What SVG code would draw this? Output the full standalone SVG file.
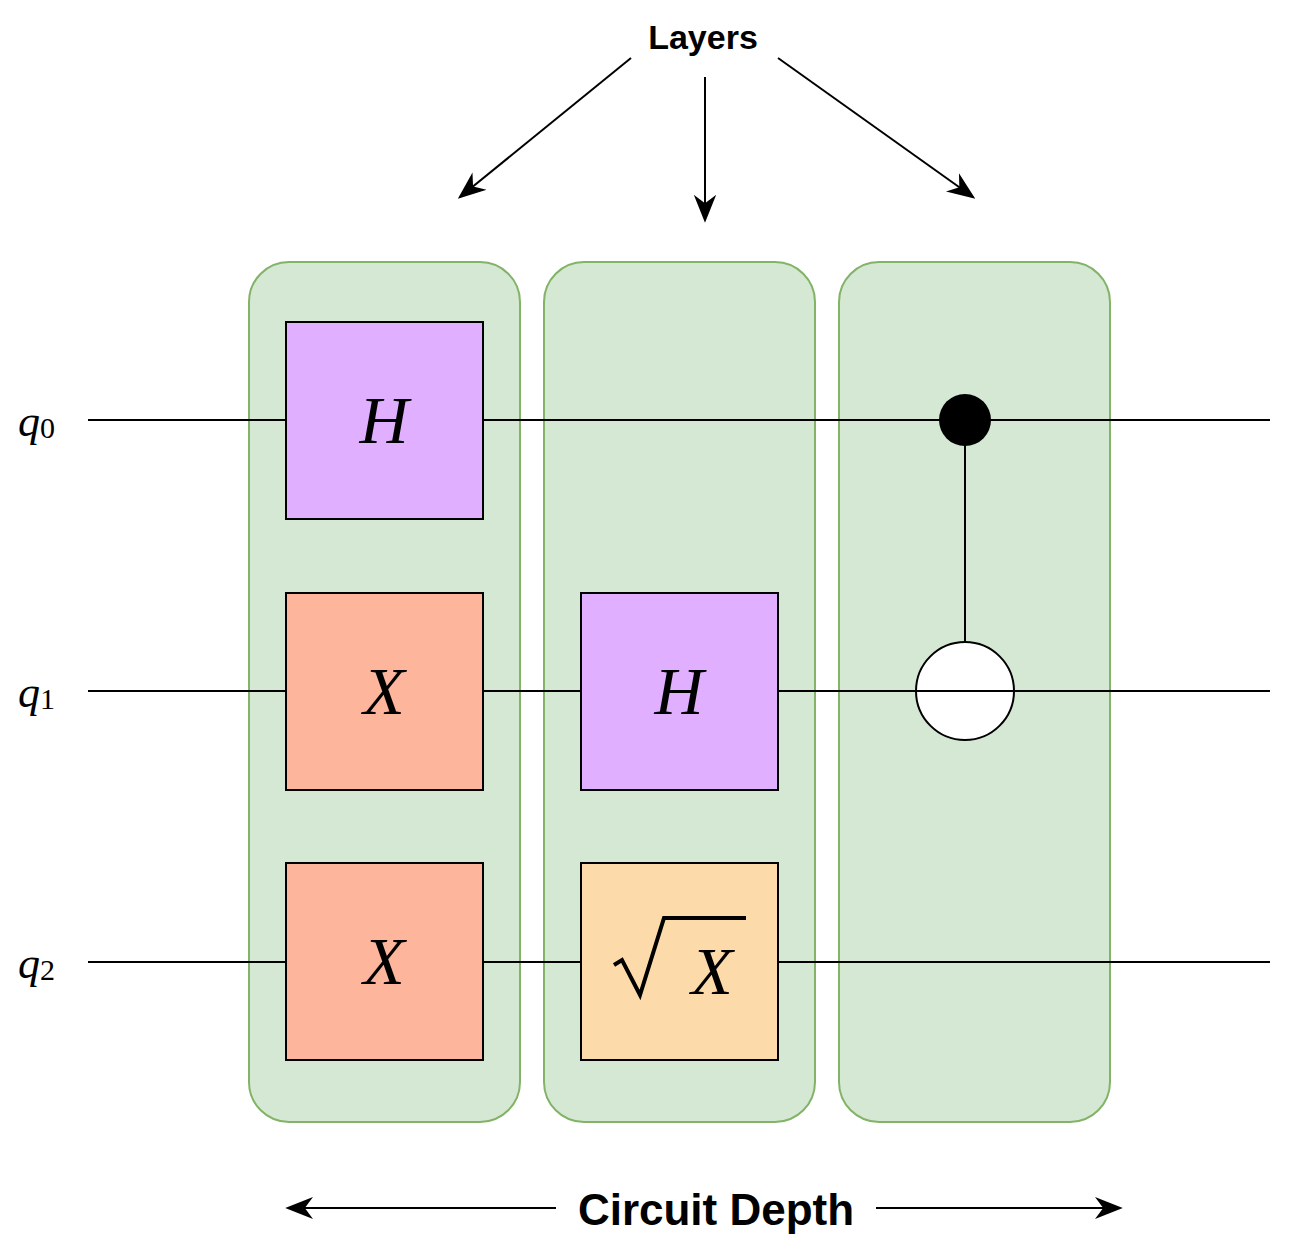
<svg xmlns="http://www.w3.org/2000/svg" width="1290" height="1256" viewBox="0 0 1290 1256">
<style>
.layer{fill:#d5e8d4;stroke:#82b366;stroke-width:2}
.gate{stroke:#000;stroke-width:2}
.wire{stroke:#000;stroke-width:2;fill:none}
.math{font-family:"Liberation Serif",serif;font-style:italic;fill:#000}
.lbl{font-family:"Liberation Sans",Arial,sans-serif;font-weight:bold;fill:#000}
</style>
<defs>
<marker id="ah" viewBox="0 0 10 10" refX="9" refY="5" markerWidth="7" markerHeight="7" orient="auto-start-reverse" markerUnits="userSpaceOnUse" >
<path d="M0,0 L10,5 L0,10 L3,5 Z" fill="#000"/>
</marker>
<marker id="ah2" viewBox="0 0 10 10" refX="9" refY="5" markerWidth="28" markerHeight="28" orient="auto-start-reverse" markerUnits="userSpaceOnUse">
<path d="M0,1 L10,5 L0,9 L3,5 Z" fill="#000"/>
</marker>
</defs>
<g id="layers">
<rect id="layer1" class="layer" x="249" y="262" width="271" height="860" rx="40"/>
<rect id="layer2" class="layer" x="544" y="262" width="271" height="860" rx="40"/>
<rect id="layer3" class="layer" x="839" y="262" width="271" height="860" rx="40"/>
</g>
<g id="connectors">
<line class="wire" x1="88" y1="420" x2="286" y2="420"/>
<line class="wire" x1="483" y1="420" x2="1270" y2="420"/>
<line class="wire" x1="88" y1="691" x2="286" y2="691"/>
<line class="wire" x1="483" y1="691" x2="581" y2="691" stroke="#555"/>
<line class="wire" x1="778" y1="691" x2="1270" y2="691"/>
<line class="wire" x1="88" y1="962" x2="286" y2="962"/>
<line class="wire" x1="483" y1="962" x2="581" y2="962" stroke="#555"/>
<line class="wire" x1="778" y1="962" x2="1270" y2="962"/>
<line class="wire" x1="631" y1="58" x2="460" y2="197" marker-end="url(#ah2)"/>
<line class="wire" x1="705" y1="77" x2="705" y2="220" marker-end="url(#ah2)"/>
<line class="wire" x1="778" y1="58" x2="973" y2="197" marker-end="url(#ah2)"/>
<line class="wire" x1="288" y1="1208" x2="556" y2="1208" stroke-width="3" marker-start="url(#ah2)"/>
<line class="wire" x1="876" y1="1208" x2="1120" y2="1208" stroke-width="3" marker-end="url(#ah2)"/>
</g>
<g id="g_h0"><rect class="gate" x="286" y="322" width="197" height="197" fill="#e1afff"/><text class="math" x="384" y="443" font-size="68" text-anchor="middle">H</text></g>
<g id="g_x1"><rect class="gate" x="286" y="593" width="197" height="197" fill="#fdb59b"/><text class="math" x="384" y="714" font-size="68" text-anchor="middle">X</text></g>
<g id="g_x2"><rect class="gate" x="286" y="863" width="197" height="197" fill="#fdb59b"/><text class="math" x="384" y="984" font-size="68" text-anchor="middle">X</text></g>
<g id="g_h1"><rect class="gate" x="581" y="593" width="197" height="197" fill="#e1afff"/><text class="math" x="679" y="714" font-size="68" text-anchor="middle">H</text></g>
<g id="g_sx"><rect class="gate" x="581" y="863" width="197" height="197" fill="#fddaa9"/>
<path d="M614,965 L622,960 L640,995 L664,918 L746,918" fill="none" stroke="#000" stroke-width="4"/>
<text class="math" x="712" y="994" font-size="68" text-anchor="middle">X</text></g>
<g id="cnot">
<line class="wire" x1="965" y1="420" x2="965" y2="740"/>
<circle cx="965" cy="420" r="26" fill="#000"/>
<circle cx="965" cy="691" r="49" fill="#fff" stroke="#000" stroke-width="2"/>
<line class="wire" x1="916" y1="691" x2="1014" y2="691"/>
</g>
<g id="labels">
<text class="math" x="18" y="436" font-size="44">q<tspan font-style="normal" font-size="30" dy="2">0</tspan></text>
<text class="math" x="18" y="707" font-size="44">q<tspan font-style="normal" font-size="30" dy="2">1</tspan></text>
<text class="math" x="18" y="978" font-size="44">q<tspan font-style="normal" font-size="30" dy="2">2</tspan></text>
<text class="lbl" x="703" y="49" font-size="34" text-anchor="middle">Layers</text>
<text class="lbl" x="716" y="1225" font-size="44" text-anchor="middle">Circuit Depth</text>
</g>
</svg>
